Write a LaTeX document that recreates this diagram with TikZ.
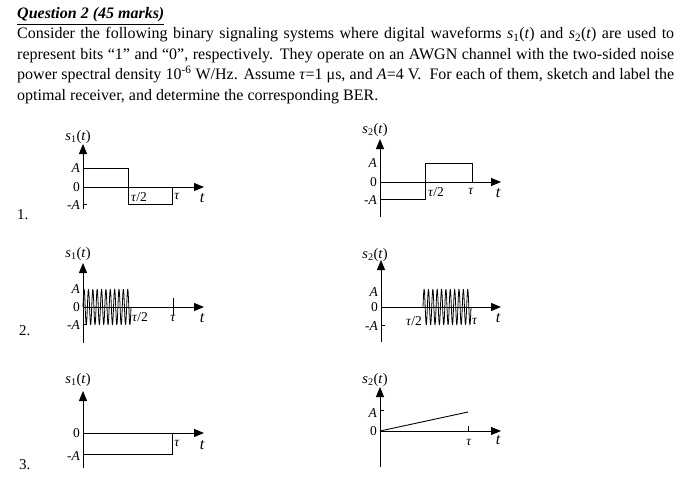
\documentclass[tikz,border=0pt]{standalone}
\usepackage{fontspec}
\setmainfont{Liberation Serif}
\usetikzlibrary{arrows.meta}
\begin{document}
\begin{tikzpicture}[x=1pt,y=-1pt,
  ax/.style={-{Triangle[length=10pt,width=8pt]}, line width=1pt},
  wv/.style={line width=0.9pt},
  tk/.style={line width=0.8pt},
  lbl/.style={font=\fontsize{13.5}{14}\selectfont, inner sep=0pt},
  sl/.style={font=\fontsize{14.5}{15}\selectfont, inner sep=0pt},
  tl/.style={font=\fontsize{16}{16}\selectfont\itshape, inner sep=0pt},
  body/.style={font=\fontsize{16}{20}\selectfont, inner sep=0pt, anchor=base west},
  num/.style={font=\fontsize{15}{16}\selectfont, inner sep=0pt, anchor=base west}]
\useasboundingbox (0,0) rectangle (692,492);

% ---- text ----
\node[body] (title) at (17,19) {\textbf{\textit{\underline{Question 2 (45 marks)}}}};
\node[body] (l1) at (17,38.5) {\makebox[657pt][s]{Consider the following binary signaling systems where digital waveforms \textit{s}\textsubscript{1}(\textit{t}) and \textit{s}\textsubscript{2}(\textit{t}) are used to}};
\node[body] (l2) at (17,59.2) {\makebox[657pt][s]{represent bits “1” and “0”, respectively. They operate on an AWGN channel with the two-sided noise}};
\node[body] (l3) at (17,80) {\makebox[657pt][s]{power spectral density 10\textsuperscript{-6} W/Hz. Assume \textit{τ}=1 μs, and \textit{A}=4 V.\hspace{4pt} For each of them, sketch and label the}};
\node[body] (l4) at (17,100.7) {optimal receiver, and determine the corresponding BER.};

% ---- 1 left ----
\node[num] (n1) at (17,219) {1.};
\draw[ax] (83,209) -- (83,144);
\draw[ax] (83,187) -- (204,187);
\draw[wv] (83,168) -- (128,168) -- (128,204) -- (172,204) -- (172,187);
\draw[tk] (84,204) -- (87,204);
\node[sl] (s11) at (78,137) {\textit{s}\textsubscript{1}(\textit{t})};
\node[lbl,anchor=east] (a11) at (80,168) {\textit{A}};
\node[lbl,anchor=east] (z11) at (80,187) {0};
\node[lbl,anchor=east] (m11) at (80,205) {-\textit{A}};
\node[lbl,anchor=west] (h11) at (131,197) {\textit{τ}/2};
\node[lbl] (t11) at (177,196) {\textit{τ}};
\node[tl] (x11) at (202,198) {t};

% ---- 1 right ----
\draw[ax] (380,217) -- (380,139);
\draw[ax] (380,182) -- (501,182);
\draw[wv] (380,199) -- (425,199) -- (425,163) -- (472,163) -- (472,182);
\node[sl] (s21) at (375,130) {\textit{s}\textsubscript{2}(\textit{t})};
\node[lbl,anchor=east] (a21) at (377,163) {\textit{A}};
\node[lbl,anchor=east] (z21) at (377,182) {0};
\node[lbl,anchor=east] (m21) at (377,200) {-\textit{A}};
\node[lbl,anchor=west] (h21) at (428,192) {\textit{τ}/2};
\node[lbl] (t21) at (471,191) {\textit{τ}};
\node[tl] (x21) at (498,193) {t};

% ---- 2 left ----
\node[num] (n2) at (19,335) {2.};
\draw[ax] (83,343) -- (83,263);
\draw[ax] (83,307) -- (204,307);
\draw[wv,line width=0.8pt] plot[domain=0:48,samples=400,variable=\x] ({83+\x},{307-17.5*sin(82.5*\x)});
\draw[tk] (173,298) -- (173,315);
\draw[tk] (84,324) -- (87,324);
\node[sl] (s12) at (78,254) {\textit{s}\textsubscript{1}(\textit{t})};
\node[lbl,anchor=east] (a12) at (80,289) {\textit{A}};
\node[lbl,anchor=east] (z12) at (80,307) {0};
\node[lbl,anchor=east] (m12) at (80,325) {-\textit{A}};
\node[lbl,anchor=west] (h12) at (132,317) {\textit{τ}/2};
\node[lbl] (t12) at (173,318) {\textit{τ}};
\node[tl] (x12) at (202,318) {t};

% ---- 2 right ----
\draw[ax] (381,342) -- (381,260);
\draw[ax] (381,307) -- (501,307);
\draw[wv,line width=0.8pt] plot[domain=0:48,samples=400,variable=\x] ({423+\x},{307-17.5*sin(82.5*\x)});
\draw[tk] (382,325) -- (385,325);
\node[sl] (s22) at (375,255) {\textit{s}\textsubscript{2}(\textit{t})};
\node[lbl,anchor=east] (a22) at (378,292) {\textit{A}};
\node[lbl,anchor=east] (z22) at (378,307) {0};
\node[lbl,anchor=east] (m22) at (378,326) {-\textit{A}};
\node[lbl,anchor=east] (h22) at (422,321) {\textit{τ}/2};
\node[lbl,anchor=west] (t22) at (472,321) {\textit{τ}};
\node[tl] (x22) at (498,318) {t};

% ---- 3 left ----
\node[num] (n3) at (19,469) {3.};
\draw[ax] (83,468) -- (83,391);
\draw[ax] (83,433) -- (204,433);
\draw[wv] (83,454) -- (172,454) -- (172,433);
\node[sl] (s13) at (78,380) {\textit{s}\textsubscript{1}(\textit{t})};
\node[lbl,anchor=east] (z13) at (80,433) {0};
\node[lbl,anchor=east] (m13) at (80,456) {-\textit{A}};
\node[lbl] (t13) at (177,443) {\textit{τ}};
\node[tl] (x13) at (202,445) {t};

% ---- 3 right ----
\draw[ax] (380,467) -- (380,387);
\draw[ax] (380,431) -- (501,431);
\draw[wv] (380,431) -- (468,412);
\draw[tk] (381,410) -- (384,410);
\draw[tk] (468,426) -- (468,431);
\node[sl] (s23) at (375,380) {\textit{s}\textsubscript{2}(\textit{t})};
\node[lbl,anchor=east] (a23) at (377,413) {\textit{A}};
\node[lbl,anchor=east] (z23) at (377,431) {0};
\node[lbl] (t23) at (469,442) {\textit{τ}};
\node[tl] (x23) at (498,440) {t};
\end{tikzpicture}
\end{document}
